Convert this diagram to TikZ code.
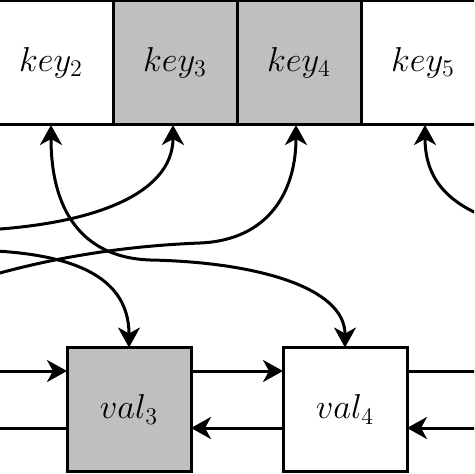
\documentclass[tikz,border=0pt]{standalone}
\usetikzlibrary{arrows.meta}
\definecolor{cellgray}{RGB}{190,191,193}
\begin{document}
\begin{tikzpicture}[x=0.5pt,y=-0.5pt,
  cell/.style={draw, line width=1.5pt, minimum width=62pt, minimum height=62pt,
    inner sep=0pt, outer sep=0pt, font=\fontsize{17.28}{21}\selectfont},
  shaded/.style={fill=cellgray},
  tip/.tip={Stealth[length=10pt,width=11pt,inset=3pt]},
  arr/.style={line width=1.5pt, -tip},
  arrboth/.style={line width=1.5pt, tip-tip},
]
\useasboundingbox (0,0) rectangle (474,474);
\clip (0,0) rectangle (474,474);

\node[cell] (key2) at (51,63) {$key_2$};
\node[cell,shaded] (key3) at (175,63) {$key_3$};
\node[cell,shaded] (key4) at (299,63) {$key_4$};
\node[cell] (key5) at (423,63) {$key_5$};
\node[cell,shaded] (val3) at (129,409.5) {$val_3$};
\node[cell] (val4) at (345,409.5) {$val_4$};

\coordinate (l1) at (-30,371);
\coordinate (l2) at (-30,428);
\coordinate (r1) at (510,371);
\coordinate (r2) at (510,428);

\draw[arr] (l1) -- (l1 -| val3.west);
\draw[arr] (l1 -| val3.east) -- (l1 -| val4.west);
\draw[arr] (l1 -| val4.east) -- (r1);
\draw[arr] (l2 -| val4.west) -- (l2 -| val3.east);
\draw[arr] (r2) -- (l2 -| val4.east);
\draw[arr] (l2 -| val3.west) -- (l2);

\coordinate (cb) at (-40,231);
\coordinate (cc) at (-40,285);
\coordinate (cd) at (-40,250);
\coordinate (ce) at (520,228);

\draw[arrboth] (key2.south) .. controls (51,220) and (90,258) .. (150,260)
  .. controls (255,262) and (345,287) .. (val4.north);
\draw[arr] (cb) .. controls (90,228) and (173,195) .. ([xshift=-1pt]key3.south);
\draw[arr] (cc) .. controls (60,252) and (150,245) .. (200,243)
  .. controls (270,240) and (296,190) .. ([xshift=-1.5pt]key4.south);
\draw[arr] (cd) .. controls (60,250) and (129,270) .. (val3.north);
\draw[arr] (ce) .. controls (470,215) and (425,195) .. ([xshift=1pt]key5.south);
\end{tikzpicture}
\end{document}
